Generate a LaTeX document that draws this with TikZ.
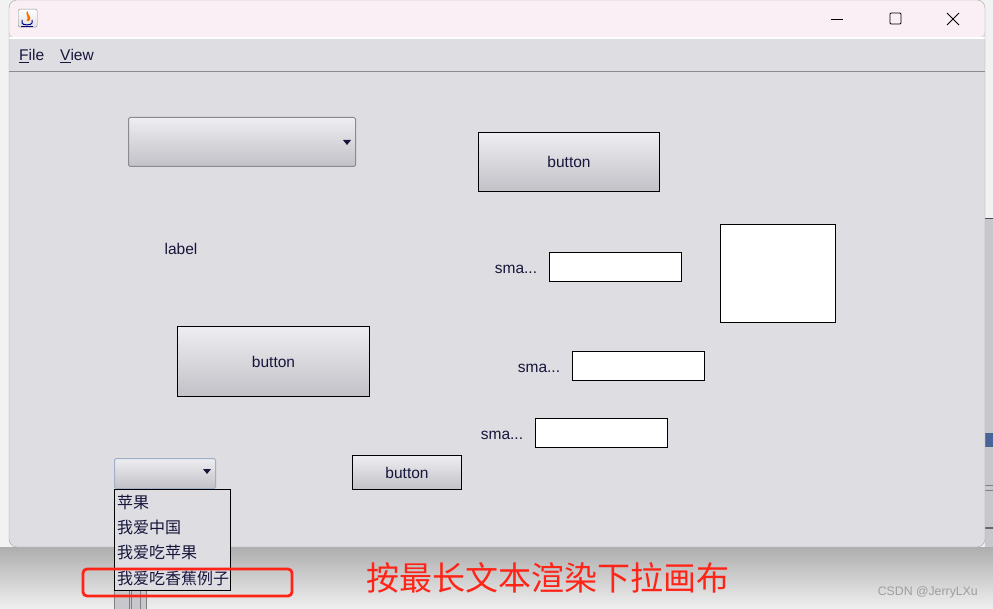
\documentclass[tikz,border=0pt]{standalone}
\usepackage{fontspec}
\setmainfont{Liberation Sans}
\newfontfamily\cjk{Noto Sans CJK SC}
\usetikzlibrary{positioning}
\definecolor{winbg}{RGB}{222,221,226}
\definecolor{titlebg}{RGB}{249,239,245}
\definecolor{jtext}{RGB}{22,22,60}
\definecolor{btntop}{RGB}{238,237,241}
\definecolor{btnbot}{RGB}{194,193,199}
\definecolor{edge}{RGB}{138,138,144}
\definecolor{focusedge}{RGB}{160,176,200}
\definecolor{redmark}{RGB}{255,36,24}
\definecolor{backgray}{RGB}{200,200,204}
\definecolor{backblue}{RGB}{74,100,150}
\tikzset{
  btn/.style={draw=black,line width=1pt,top color=btntop,bottom color=btnbot,
    text=jtext,font=\fontsize{15.5}{18}\selectfont,inner sep=0pt,anchor=north west},
  combo/.style={draw=edge,line width=1pt,rounded corners=1.5pt,top color=btntop,
    bottom color=btnbot,inner sep=0pt,anchor=north west},
  field/.style={draw=black,line width=1pt,fill=white,inner sep=0pt,anchor=north west},
  lbl/.style={text=jtext,font=\fontsize{15.5}{18}\selectfont,inner sep=0pt},
  item/.style={text=jtext,font=\cjk\fontsize{16}{18}\selectfont,inner sep=0pt,anchor=west}
}
\begin{document}
\begin{tikzpicture}[x=1pt,y=-1pt]
  \useasboundingbox (0,0) rectangle (993,609);
  % desktop behind the window
  \fill[white!95!black] (0,0) rectangle (993,609);
  \fill[backgray] (985,218) rectangle (993,547);
  \draw[black!70] (985,218) -- (993,218);
  \fill[backblue] (985,433) rectangle (993,447);
  \draw[gray] (985,485) -- (993,485) (985,490) -- (993,490);
  \draw[black!60,line width=1.2pt] (985,528) -- (993,528);
  \shade[top color=black!32,bottom color=white!94!black] (0,547) rectangle (993,609);
  \fill[backgray] (114,590) rectangle (146,609);
  \draw[gray] (114,590) -- (114,609) (129,590) -- (129,609) (131,590) -- (131,609)
    (140,590) -- (140,609) (146,590) -- (146,609);
  % window
  \fill[winbg,rounded corners=8] (9,0) rectangle (985,547);
  \fill[titlebg,rounded corners=8] (9,0) -- (985,0) -- (985,38) -- (9,38) -- cycle;
  \draw[white,line width=1.2pt] (9,38) -- (985,38);
  \draw[edge,line width=1pt] (9,72) -- (985,72);
  \draw[black!35,rounded corners=8] (9,0) rectangle (985,547);
  % title bar
  \node[draw=black!45,rounded corners=2pt,top color=white,bottom color=black!12,
    minimum width=19,minimum height=18,inner sep=0pt,anchor=north west] (ic) at (18,9) {};
  \fill[orange!85!red] (27.5,11) .. controls (24,14) and (30,17) .. (26.5,21) -- (29,21)
    .. controls (33,17) and (27,15) .. cycle;
  \draw[blue!50!black,line width=1pt] (22,20) -- (22,23) .. controls (22,25.5) and (32,25.5) .. (32,23) -- (32,20);
  \draw[blue!50!black] (21,26) -- (33,26);
  \draw[black,line width=0.9pt] (831,19) -- (843,19);
  \draw[black,line width=0.9pt,rounded corners=1pt] (890,13) rectangle (901,24);
  \draw[black,line width=0.9pt] (947,13) -- (959,25) (947,25) -- (959,13);
  % menu bar
  \node[lbl,anchor=west] (mf) at (19,56) {\underline{F}ile};
  \node[lbl,anchor=west] (mv) at (60,56) {\underline{V}iew};
  % components
  \node[combo,minimum width=227,minimum height=49] (cb1) at (128,117) {};
  \fill[jtext] (343,140) -- (351,140) -- (347,145) -- cycle;
  \node[btn,minimum width=181,minimum height=59] (bt1) at (478,132) {button};
  \node[lbl] (lb) at (181,249) {label};
  \node[lbl] (sm1) at (516,269) {sma...};
  \node[field,minimum width=132,minimum height=29] (tf1) at (549,252) {};
  \node[field,minimum width=115,minimum height=98] (pn) at (720,224) {};
  \node[btn,minimum width=192,minimum height=70] (bt2) at (177,326) {button};
  \node[lbl] (sm2) at (539,368) {sma...};
  \node[field,minimum width=132,minimum height=29] (tf2) at (572,351) {};
  \node[lbl] (sm3) at (502,435) {sma...};
  \node[field,minimum width=132,minimum height=29] (tf3) at (535,418) {};
  \node[combo,draw=focusedge,minimum width=101,minimum height=30] (cb2) at (114,458) {};
  \fill[jtext] (203,469) -- (211,469) -- (207,474) -- cycle;
  \node[btn,minimum width=109,minimum height=34] (bt3) at (352,455) {button};
  % drop-down list
  \node[draw=black,line width=1pt,fill=winbg,minimum width=116,minimum height=101,
    inner sep=0pt,anchor=north west] (dl) at (114,489) {};
  \node[item] (i1) at (117,502) {苹果};
  \node[item] (i2) at (117,527) {我爱中国};
  \node[item] (i3) at (117,552) {我爱吃苹果};
  \node[item] (i4) at (117,578) {我爱吃香蕉例子};
  % annotation
  \draw[redmark,line width=2.8pt,rounded corners=4pt] (83,569) rectangle (292,596);
  \node[text=redmark,font=\cjk\fontsize{33}{36}\selectfont,inner sep=0pt,anchor=west] (nt) at (366,578) {按最长文本渲染下拉画布};
  \node[text=black!38,font=\fontsize{12.3}{14}\selectfont,inner sep=0pt,anchor=east] (wm) at (978,592) {CSDN @JerryLXu};
\end{tikzpicture}
\end{document}
